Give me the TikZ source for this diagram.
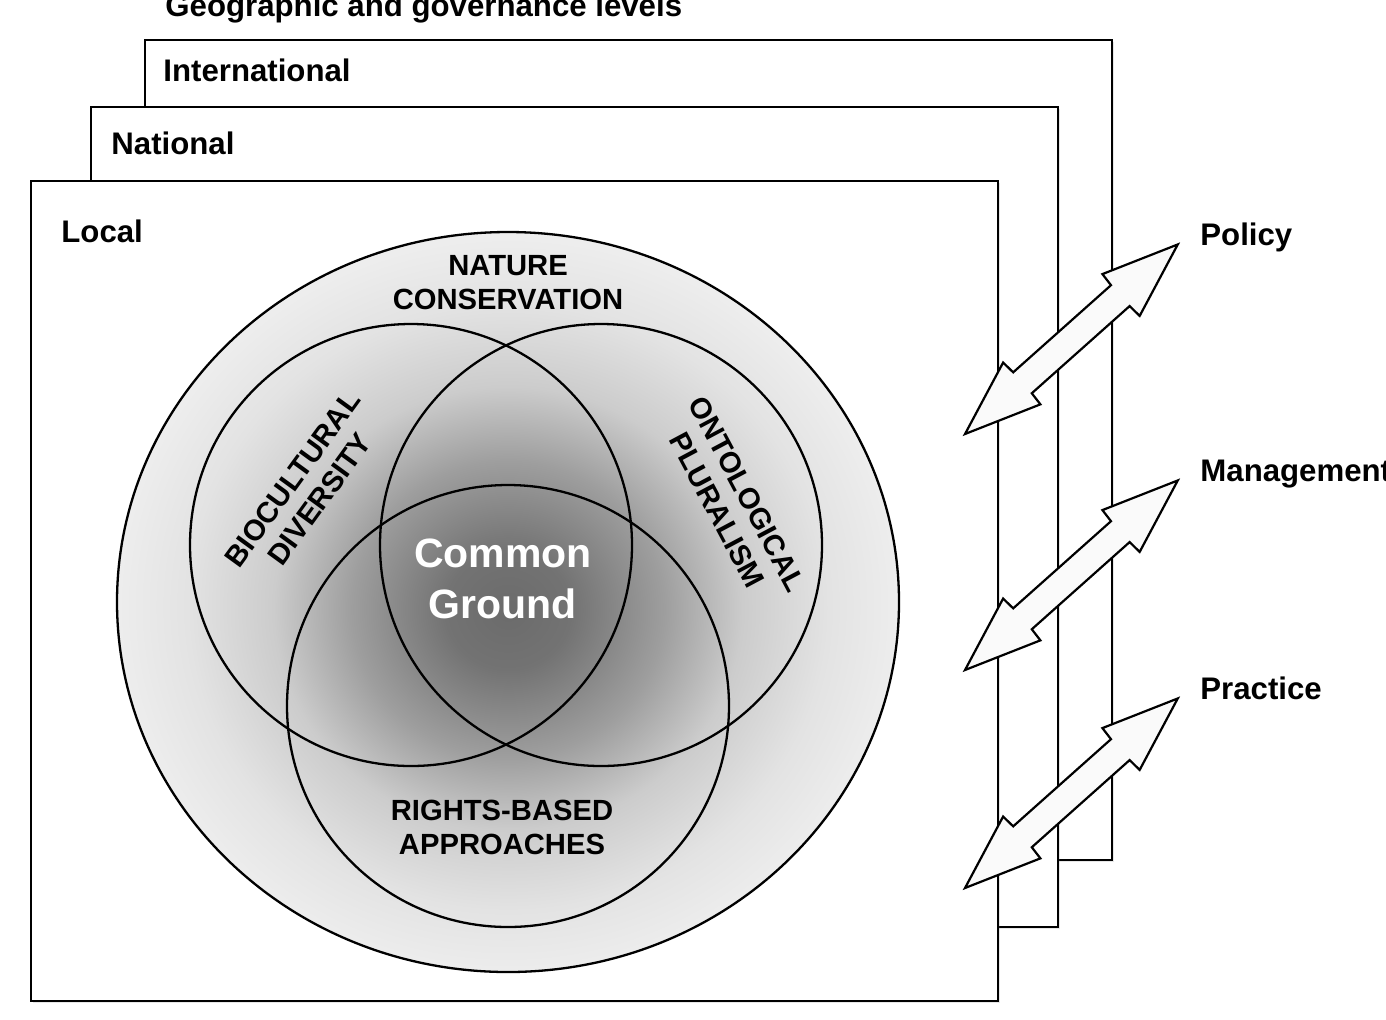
\documentclass[tikz,border=0pt]{standalone}
\usepackage{fontspec}
\setmainfont{Liberation Sans}
\usetikzlibrary{shadows}

\pgfdeclareradialshading{venngrey}{\pgfpoint{0bp}{-0.6bp}}{%
  color(0bp)=(black!58); color(4bp)=(black!55); color(10bp)=(black!38);
  color(15bp)=(black!20); color(20.5bp)=(black!11); color(25bp)=(black!7);
  color(50bp)=(black!7)}

\tikzset{
  dblarrow/.pic={
    \draw[arrowbox] (0,0) -- (76,-28) -- (77,-14) -- (208,-14) -- (209,-28)
      -- (285,0) -- (209,28) -- (208,14) -- (77,14) -- (76,28) -- cycle;
  }
}

\begin{document}
\begin{tikzpicture}[x=0.5pt, y=-0.5pt,
    level/.style={draw, line width=1.4pt, fill=white,
      drop shadow={opacity=0.2, shadow xshift=0.8pt, shadow yshift=-1.2pt}},
    ring/.style={draw, line width=1.15pt},
    arrowbox/.style={draw, line width=1.1pt, fill=red!2!gray!4, line join=miter},
    lbl/.style={font=\fontsize{15.6}{18}\selectfont\bfseries, anchor=base west, inner sep=0pt},
    venntext/.style={font=\fontsize{14.6}{17}\selectfont\bfseries, align=center, inner sep=0pt}]
  \useasboundingbox (0,0) rectangle (1386,1019);

  \node[lbl] (title) at (165,16) {Geographic and governance levels};

  % the three levels, back to front
  \foreach \nm/\x/\y/\lx/\ly in {International/145/40/163/81, National/91/107/111/154, Local/31/181/61/242}
  {
    \draw[level] (\x,\y) rectangle ++(967,820);
    \node[lbl] (lvl-\nm) at (\lx,\ly) {\nm};
  }

  \shade[shading=venngrey, ring] (508,602) ellipse[x radius=391, y radius=370];
  \foreach \cx/\cy in {411/545, 601/545, 508/706}
    \draw[ring] (\cx,\cy) circle[radius=221];

  \node[venntext] (nature) at (508,283) {NATURE\\CONSERVATION};
  \node[venntext, rotate=54] (bio) at (306,489) {BIOCULTURAL\\DIVERSITY};
  \node[venntext, rotate=-62] (onto) at (732,502) {ONTOLOGICAL\\PLURALISM};
  \node[venntext] (rights) at (502,827) {RIGHTS-BASED\\APPROACHES};
  \node[font=\fontsize{20.5}{25.5}\selectfont\bfseries, align=center, text=white, inner sep=0pt]
    (common) at (503,579) {Common\\Ground};

  \foreach \nm/\y in {Policy/244, Management/480, Practice/698}
  {
    \pic[rotate=41.7] at (965,\y+190) {dblarrow};
    \node[lbl] (\nm) at (1200,\y+1) {\nm};
  }
\end{tikzpicture}
\end{document}
